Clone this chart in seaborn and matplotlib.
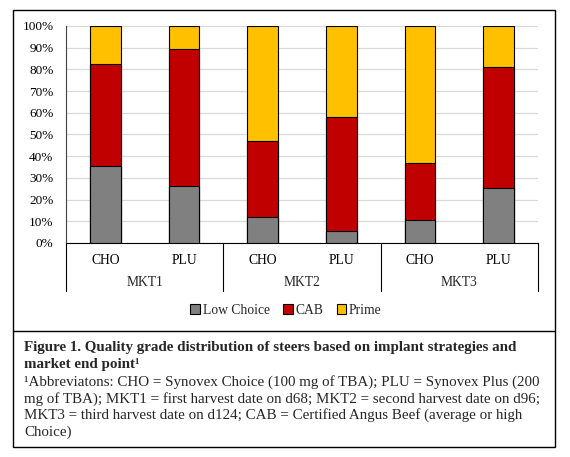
import matplotlib
matplotlib.use("Agg")
import matplotlib.pyplot as plt
import pandas as pd
import seaborn as sns
from matplotlib.patches import Rectangle
from matplotlib.lines import Line2D

# values (percent of steers)
markets = ["MKT1", "MKT1", "MKT2", "MKT2", "MKT3", "MKT3"]
implants = ["CHO", "PLU", "CHO", "PLU", "CHO", "PLU"]
low_choice = [35.5, 26.1, 12.0, 5.5, 10.6, 25.3]
cab = [47.0, 63.3, 35.0, 52.6, 26.3, 55.8]
prime = [17.5, 10.6, 53.0, 41.9, 63.1, 18.9]
grades = ["Low Choice", "CAB", "Prime"]
colors = {"Low Choice": "#808080", "CAB": "#C00000", "Prime": "#FFC000"}
market_names = ["MKT1", "MKT2", "MKT3"]

df = pd.DataFrame({"market": markets, "implant": implants,
                   "Low Choice": low_choice, "CAB": cab, "Prime": prime})
df["pos"] = [f"{m}-{i}" for m, i in zip(df["market"], df["implant"])]
# cumulative tops for the stacked bars
df["top_low"] = df["Low Choice"]
df["top_cab"] = df["top_low"] + df["CAB"]
df["top_prime"] = df["top_cab"] + df["Prime"]

sns.set_theme(style="white")
plt.rcParams["font.family"] = ["Liberation Serif", "DejaVu Serif"]

W, H = 570, 457
fig = plt.figure(figsize=(W / 100, H / 100), dpi=100)
ax = fig.add_axes([66 / W, 1 - 243 / H, (538 - 66) / W, (243 - 26) / H])

# draw from the tallest layer down so each segment shows
for col, grade in [("top_prime", "Prime"), ("top_cab", "CAB"), ("top_low", "Low Choice")]:
    sns.barplot(data=df, x="pos", y=col, color=colors[grade], saturation=1,
                width=0.39, edgecolor="black", linewidth=0.8, label=grade, ax=ax,
                errorbar=None, zorder=3)

handles, labels = ax.get_legend_handles_labels()
lookup = dict(zip(labels, handles))
if ax.get_legend() is not None:
    ax.get_legend().remove()

ax.set_ylim(0, 100)
ax.set_xlim(-0.5, len(df) - 0.5)
ax.set_yticks(range(0, 101, 10))
ax.set_yticklabels([f"{v}%" for v in range(0, 101, 10)], fontsize=9.5)
ax.yaxis.grid(True, color="#D9D9D9", linewidth=0.9, zorder=0)
ax.set_axisbelow(True)
ax.set_xticks(range(len(df)))
ax.set_xticklabels(df["implant"], fontsize=9.8)
ax.tick_params(axis="both", length=0, colors="black")
ax.tick_params(axis="x", pad=8)
ax.tick_params(axis="y", pad=9)
ax.set_xlabel("")
ax.set_ylabel("")
for side in ["top", "right"]:
    ax.spines[side].set_visible(False)
for side in ["left", "bottom"]:
    ax.spines[side].set_color("black")
    ax.spines[side].set_linewidth(0.8)
ax.spines["left"].set_color("#404040")

# group dividers and market labels under the axis
ax_h = 243 - 26
for b in [-0.5, 1.5, 3.5, 5.5]:
    ax.add_line(Line2D([b, b], [0, -48 / ax_h], color="black", linewidth=0.8,
                       transform=ax.get_xaxis_transform(), clip_on=False))
for k, m in enumerate(market_names):
    ax.text(2 * k + 0.5, -39 / ax_h, m, ha="center", va="center", fontsize=9.8,
            transform=ax.get_xaxis_transform())

fig.legend([lookup[g] for g in grades], grades, loc="center",
           bbox_to_anchor=(286 / W, 1 - 310 / H), ncol=3, frameon=False,
           fontsize=9.8, handlelength=0.7, handleheight=0.7,
           handletextpad=0.2, columnspacing=1.0)

# outer frame and caption divider
fig.add_artist(Rectangle((13 / W, 1 - 447 / H), (555 - 13) / W, (447 - 10) / H,
                         transform=fig.transFigure, fill=False, edgecolor="black",
                         linewidth=1.0))
fig.add_artist(Line2D([13 / W, 555 / W], [1 - 331 / H, 1 - 331 / H],
                      transform=fig.transFigure, color="black", linewidth=1.0))

bold_lines = ["Figure 1. Quality grade distribution of steers based on implant strategies and",
              "market end point\u00b9"]
note_lines = ["\u00b9Abbreviatons: CHO = Synovex Choice (100 mg of TBA); PLU = Synovex Plus (200",
              "mg of TBA); MKT1 = first harvest date on d68; MKT2 = second harvest date on d96;",
              "MKT3 = third harvest date on d124; CAB = Certified Angus Beef (average or high",
              "Choice)"]
y = 348
for line in bold_lines:
    fig.text(24 / W, 1 - y / H, line, ha="left", va="center", fontsize=10.8,
             fontweight="bold")
    y += 16.5
y = 382
for line in note_lines:
    fig.text(24 / W, 1 - y / H, line, ha="left", va="center", fontsize=10.8)
    y += 16.7

fig.savefig("out.png", dpi=100)
